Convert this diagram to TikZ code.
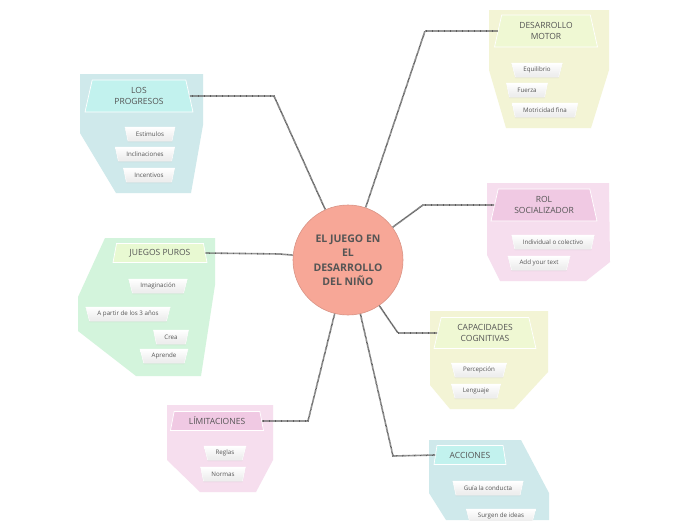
\documentclass[tikz,border=0pt]{standalone}
\usepackage{fontspec}
\setmainfont{Open Sans}
\usepackage{xcolor}
\usetikzlibrary{shapes.geometric, shadows}

\definecolor{txt}{HTML}{555555}
\definecolor{linkc}{HTML}{5E5E5E}
\definecolor{salmon}{HTML}{F7A797}
\definecolor{bgteal}{HTML}{CFE9EB}
\definecolor{bgyellow}{HTML}{F3F4D5}
\definecolor{bgpink}{HTML}{F6DEEE}
\definecolor{bggreen}{HTML}{D3F4DC}
\definecolor{tteal}{HTML}{C2F2EE}
\definecolor{tyellow}{HTML}{EFF8D3}
\definecolor{tpink}{HTML}{F0C9E3}
\definecolor{tgreen}{HTML}{E8F9D2}

\begin{document}
\begin{tikzpicture}[
    x=1pt, y=-1pt,
    topic/.style={trapezium, trapezium angle=70, trapezium stretches body=true,
                  draw=white, line width=0.7pt, align=center, inner sep=1pt,
                  font=\fontsize{8.5}{11.5}\selectfont, text=txt},
    item/.style={trapezium, shape border rotate=180, trapezium angle=66,
                 trapezium stretches body=true, top color=white, bottom color=gray!16,
                 draw=white, line width=0.5pt, minimum height=14pt, inner xsep=8pt,
                 inner ysep=1pt, font=\fontsize{6.2}{7.5}\selectfont, text=txt,
                 drop shadow={opacity=0.18, shadow xshift=0pt, shadow yshift=-1pt}},
    link/.style={draw=linkc, line width=1.6pt, dash pattern=on 0.7pt off 0.5pt},
    core/.style={circle, fill=salmon, draw=salmon!88!black, line width=0.6pt,
                 minimum size=110pt, align=center, text=txt,
                 font=\bfseries\fontsize{10.5}{14.5}\selectfont}
  ]
  \useasboundingbox[fill=white] (0,0) rectangle (696,520);

  % background panels
  \fill[bgteal]   (80,74) -- (203,74) -- (203,125) -- (191,193) -- (116,193) -- (80,133) -- cycle;
  \fill[bgyellow] (489,10) -- (609,10) -- (609,70) -- (591,128) -- (506,128) -- (489,70) -- cycle;
  \fill[bgpink]   (487,183) -- (609,183) -- (610,262) -- (586,281) -- (500,281) -- (487,255) -- cycle;
  \fill[bggreen]  (105,238) -- (215,238) -- (215,285) -- (201,376) -- (136,376) -- (78,331) -- (78,297) -- cycle;
  \fill[bgpink]   (167,405) -- (273,405) -- (273,460) -- (256,492) -- (200,492) -- (167,460) -- cycle;
  \fill[bgyellow] (430,311) -- (548,311) -- (548,372) -- (514,409) -- (450,409) -- (430,385) -- cycle;
  \fill[bgteal]   (429,440) -- (521,440) -- (549,493) -- (549,520) -- (446,520) -- (429,493) -- cycle;

  % centre
  \node[core] (juego) at (348,260) {EL JUEGO EN\\EL\\DESARROLLO\\DEL NIÑO};

  % topics
  \node[topic, fill=tteal, minimum width=108pt, minimum height=32pt]   (prog) at (139,96)  {LOS\\PROGRESOS};
  \node[topic, fill=tyellow, minimum width=103pt, minimum height=32pt] (motor) at (546,31) {DESARROLLO\\MOTOR};
  \node[topic, fill=tpink, minimum width=106pt, minimum height=32pt]   (rol) at (544,205)  {ROL\\SOCIALIZADOR};
  \node[topic, fill=tgreen, minimum width=94pt, minimum height=19pt]   (puros) at (160,253) {JUEGOS PUROS};
  \node[topic, fill=tpink, minimum width=93pt, minimum height=19pt]    (limit) at (217,421) {LÍMITACIONES};
  \node[topic, fill=tyellow, minimum width=102pt, minimum height=31pt] (cogn) at (485,333) {CAPACIDADES\\COGNITIVAS};
  \node[topic, fill=tteal, minimum width=72pt, minimum height=19pt]    (acc) at (470,455)  {ACCIONES};

  % items
  \node[item] (estim)  at (150,134) {Estimulos};
  \node[item] (inclin) at (145,154) {Inclinaciones};
  \node[item] (incent) at (149,175) {Incentivos};
  \node[item] (equil)  at (537,70)  {Equilibrio};
  \node[item] (fuerza) at (527,90)  {Fuerza};
  \node[item] (motric) at (545,110) {Motricidad fina};
  \node[item] (indiv)  at (553,242) {Individual o colectivo};
  \node[item] (addtxt) at (539,263) {Add your text};
  \node[item] (imagin) at (158,286) {Imaginación};
  \node[item] (apartir) at (128,314) {A partir de los 3 años};
  \node[item] (crea)   at (171,337) {Crea};
  \node[item] (aprende) at (164,356) {Aprende};
  \node[item] (reglas) at (225,453) {Reglas};
  \node[item] (normas) at (223,474) {Normas};
  \node[item] (percep) at (479,370) {Percepción};
  \node[item] (lengua) at (476,391) {Lenguaje};
  \node[item] (guia)   at (488,488) {Guía la conducta};
  \node[item] (surgen) at (501,516) {Surgen de ideas};

  % elbows
  \coordinate (kprog)  at (274,96);
  \coordinate (kmotor) at (425,31);
  \coordinate (krol)   at (423,205);
  \coordinate (kpuros) at (280,254);
  \coordinate (klimit) at (308,421);
  \coordinate (kcogn)  at (398,333);
  \coordinate (kacc)   at (393,456);

  % links
  \draw[link] (prog.east)  -- (kprog)  -- (juego);
  \draw[link] (motor.west) -- (kmotor) -- (juego);
  \draw[link] (rol.west)   -- (krol)   -- (juego);
  \draw[link] (puros.east) -- (kpuros) -- (juego);
  \draw[link] (limit.east) -- (klimit) -- (juego);
  \draw[link] (cogn.west)  -- (kcogn)  -- (juego);
  \draw[link] (acc.west)   -- (kacc)   -- (juego);
\end{tikzpicture}
\end{document}
